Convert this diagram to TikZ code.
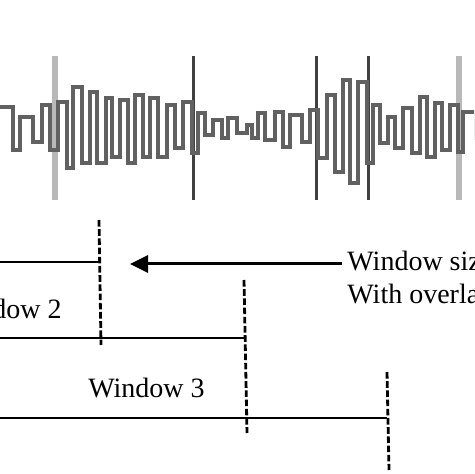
\documentclass[tikz,border=0pt]{standalone}
\usepackage{fontspec}
\setmainfont{Liberation Serif}
\usetikzlibrary{arrows.meta}

\tikzset{
  lbl/.style={inner sep=0pt, font=\fontsize{14}{16.5}\selectfont},
  winline/.style={line width=1.4pt},
  cut/.style={line width=1.4pt, dash pattern=on 3.3pt off 1.3pt},
  wave/.style={line width=2pt, black!62, line join=miter},
  arr/.style={line width=1.5pt, -{Triangle[length=9pt,width=8.5pt]}}
}

\begin{document}
\begin{tikzpicture}[x=0.5pt,y=-0.5pt]
\useasboundingbox (0,0) rectangle (474,474);
\clip (0,0) rectangle (474,474);

% marker bars
\fill[gray!55] (52,56) rectangle (58,200);
\fill[black!75] (192,56) rectangle (195,200);
\fill[black!75] (315,56) rectangle (318,200);
\fill[black!75] (367,56) rectangle (370,200);
\fill[gray!55] (456,56) rectangle (462,200);

% signal
\draw[wave] (-2,107) -| (13,150) -| (20,117) -| (33,142) -| (42,105) -| (50,150)
  -| (58,102) -| (67,168) -| (73,87) -| (82,163) -| (90,92) -| (97,163)
  -| (106,98) -| (112,157) -| (120,100) -| (128,163) -| (135,95) -| (143,157)
  -| (150,98) -| (158,157) -| (167,105) -| (175,148) -| (183,102) -| (192,153)
  -| (198,113) -| (205,135) -| (213,120) -| (222,138) -| (228,118) -| (237,133)
  -| (247,125) -| (252,138) -| (258,113) -| (265,140) -| (275,112) -| (283,147)
  -| (290,115) -| (302,142) -| (310,110) -| (318,158) -| (327,95) -| (335,172)
  -| (343,80) -| (350,183) -| (358,82) -| (367,163) -| (373,105) -| (380,143)
  -| (388,117) -| (395,148) -| (403,108) -| (412,153) -| (420,97) -| (427,157)
  -| (435,103) -| (442,150) -| (450,105) -| (458,152) -| (463,112) -| (476,140);

% window borders
\coordinate (c1t) at (99,220);
\coordinate (c1b) at (101,345);
\coordinate (c2t) at (244,280);
\coordinate (c2b) at (247,433);
\coordinate (c2m) at (245,338);
\coordinate (c3t) at (387,372);
\coordinate (c3b) at (389,470);
\draw[cut] (c1t) -- (c1b);
\draw[cut] (c2t) -- (c2b);
\draw[cut] (c3t) -- (c3b);

\coordinate (w1) at (-2,262);
\coordinate (w2) at (-2,338);
\coordinate (w3) at (-2,418);
\draw[winline] (w1) -- (w1 -| c1t);
\draw[winline] (w2) -- (c2m);
\draw[winline] (w3) -- (w3 -| c3t);

\node[lbl, anchor=base east] (win2) at (62,318) {Window 2};
\node[lbl, anchor=base west] (win3) at (88,397) {Window 3};

\node[lbl, anchor=base west] (size) at (347,271) {Window size};
\node[lbl, anchor=base west] (over) at (347,304) {With overlap};

\coordinate (tip) at (130,264);
\draw[arr] ([xshift=-2.5pt]size.west |- tip) -- (tip);
\end{tikzpicture}
\end{document}
